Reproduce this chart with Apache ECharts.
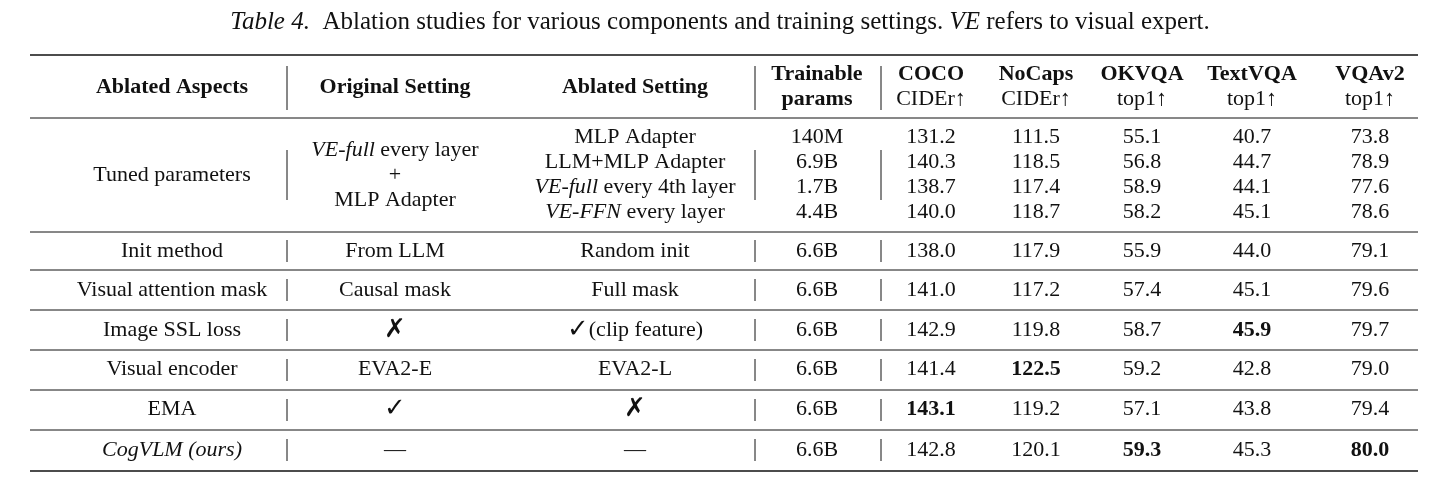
<!DOCTYPE html>
<html><head><meta charset="utf-8">
<script src="https://cdn.jsdelivr.net/npm/echarts@6/dist/echarts.min.js"></script>
<style>html,body{margin:0;background:#fff}#c{width:1440px;height:485px}</style>
</head><body><div id="c"></div>
<script>
// table content
var headers = ['Ablated Aspects', 'Original Setting', 'Ablated Setting', 'Trainable\nparams',
  'COCO\n{n|CIDEr↑}', 'NoCaps\n{n|CIDEr↑}', 'OKVQA\n{n|top1↑}', 'TextVQA\n{n|top1↑}', 'VQAv2\n{n|top1↑}'];
var aspects = ['Tuned parameters', 'Init method', 'Visual attention mask', 'Image SSL loss',
  'Visual encoder', 'EMA', '{i|CogVLM (ours)}'];
var original = ['{i|VE-full} every layer\n+\nMLP Adapter', 'From LLM', 'Causal mask', '{s|✗}', 'EVA2-E', '{s|✓}', '—'];
var ablated = ['MLP Adapter', 'LLM+MLP Adapter', '{i|VE-full} every 4th layer', '{i|VE-FFN} every layer',
  'Random init', 'Full mask', '{s|✓}(clip feature)', 'EVA2-L', '{s|✗}', '—'];
var params = ['140M', '6.9B', '1.7B', '4.4B', '6.6B', '6.6B', '6.6B', '6.6B', '6.6B', '6.6B'];
var coco = ['131.2', '140.3', '138.7', '140.0', '138.0', '141.0', '142.9', '141.4', '143.1', '142.8'];
var nocaps = ['111.5', '118.5', '117.4', '118.7', '117.9', '117.2', '119.8', '122.5', '119.2', '120.1'];
var okvqa = ['55.1', '56.8', '58.9', '58.2', '55.9', '57.4', '58.7', '59.2', '57.1', '59.3'];
var textvqa = ['40.7', '44.7', '44.1', '45.1', '44.0', '45.1', '45.9', '42.8', '43.8', '45.3'];
var vqav2 = ['73.8', '78.9', '77.6', '78.6', '79.1', '79.6', '79.7', '79.0', '79.4', '80.0'];
var boldIdx = [null, null, null, null, 8, 7, 9, 6, 9];

// layout
var colX = [172, 395, 635, 817, 931, 1036, 1142, 1252, 1370];
var lineY = [137, 162, 187, 212, 251, 290, 330, 369, 409, 450];
var groupY = [175, 251, 290, 330, 369, 409, 450];
var rules = [[55, 1.6], [118, 1], [232, 1], [270, 1], [310, 1], [350, 1], [390, 1], [430, 1], [471, 1.6]];
var sepX = [287, 755, 881];
var bands = [[66, 110], [150, 200], [240, 262], [279, 301], [319, 341], [359, 381], [399, 421], [439, 461]];

var cells = [];
headers.forEach(function (h, c) { cells.push([colX[c], 87, h, 1]); });
aspects.forEach(function (t, r) { cells.push([colX[0], groupY[r], t, 0]); });
original.forEach(function (t, r) { cells.push([colX[1], groupY[r], t, 0]); });
[ablated, params, coco, nocaps, okvqa, textvqa, vqav2].forEach(function (col, k) {
  col.forEach(function (t, r) { cells.push([colX[k + 2], lineY[r], t, boldIdx[k + 2] === r ? 1 : 0]); });
});
var segs = [];
rules.forEach(function (r) { segs.push([30, r[0], 1418, r[0], r[1]]); });
bands.forEach(function (b) { sepX.forEach(function (x) { segs.push([x, b[0], x, b[1], 1]); }); });

var F = '"Liberation Serif", "DejaVu Serif", serif';
var FS = 22;
var chart = echarts.init(document.getElementById('c'));
chart.setOption({
  animation: false,
  title: {
    text: '{i|Table 4.}  Ablation studies for various components and training settings. {i|VE} refers to visual expert.',
    left: 'center', top: 5,
    textStyle: { fontFamily: F, fontSize: 25, fontWeight: 'normal', color: '#111',
      rich: { i: { fontFamily: F, fontSize: 25, fontStyle: 'italic', color: '#111' } } }
  },
  grid: { left: 0, right: 0, top: 0, bottom: 0 },
  xAxis: { type: 'value', min: 0, max: 1440, show: false },
  yAxis: { type: 'value', min: 0, max: 485, inverse: true, show: false },
  series: [{
    type: 'custom', data: segs,
    renderItem: function (p, api) {
      var a = api.coord([api.value(0), api.value(1)]), b = api.coord([api.value(2), api.value(3)]);
      return { type: 'line', shape: { x1: a[0], y1: a[1], x2: b[0], y2: b[1] },
        style: { stroke: '#111', lineWidth: api.value(4) } };
    }
  }, {
    type: 'custom', data: cells,
    dimensions: ['x', 'y', 't', 'b'],
    renderItem: function (p, api) {
      var d = cells[p.dataIndex];
      var pt = api.coord([d[0], d[1]]);
      var w = d[3] ? 'bold' : 'normal';
      return { type: 'text', x: pt[0], y: pt[1],
        style: { text: d[2], fontFamily: F, fontSize: FS, fontWeight: w, fill: '#111',
          align: 'center', verticalAlign: 'middle', lineHeight: 25,
          rich: {
            i: { fontFamily: F, fontSize: FS, fontStyle: 'italic', fontWeight: w, fill: '#111', lineHeight: 25 },
            n: { fontFamily: F, fontSize: FS, fontWeight: 'normal', fill: '#111', lineHeight: 25 },
            s: { fontFamily: '"DejaVu Sans", sans-serif', fontSize: 26, fill: '#111', lineHeight: 25 }
          } } };
    }
  }]
});
</script></body></html>
